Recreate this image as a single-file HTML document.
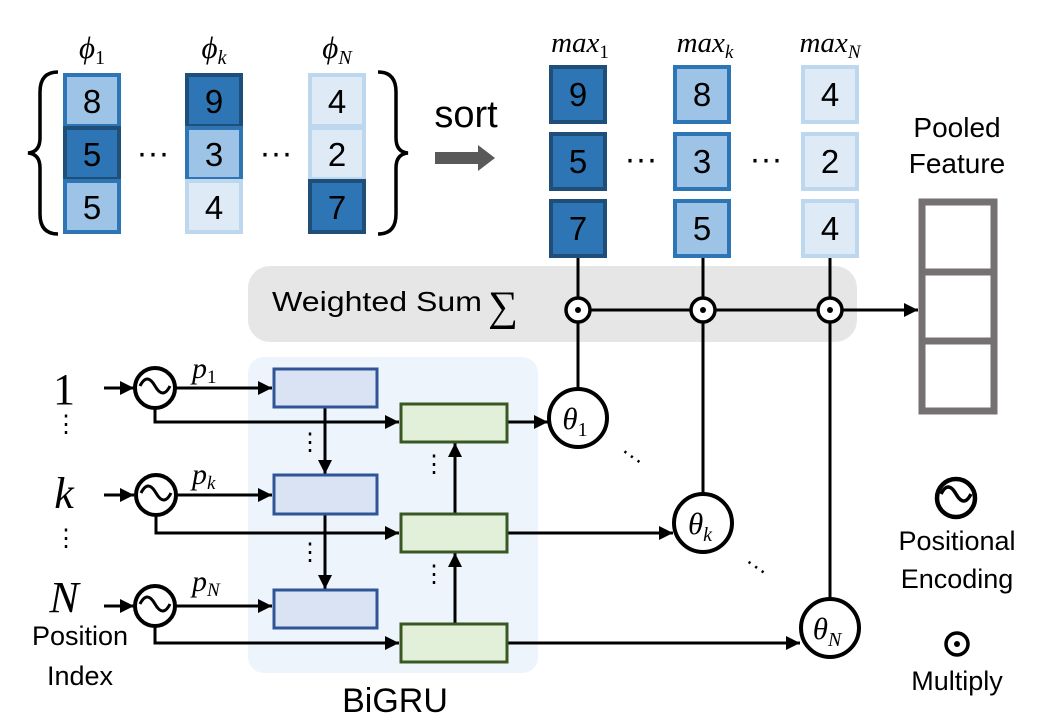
<!DOCTYPE html>
<html><head><meta charset="utf-8"><style>
html,body{margin:0;padding:0;background:#fff}
svg{display:block}
.s{font-family:"Liberation Sans",sans-serif}
.m{font-family:"Liberation Serif",serif;font-style:italic}
</style></head><body>
<svg width="1050" height="728" viewBox="0 0 1050 728" xmlns="http://www.w3.org/2000/svg">
<defs>
<marker id="b" viewBox="0 0 10 10" refX="10" refY="5" markerWidth="14" markerHeight="14" orient="auto" markerUnits="userSpaceOnUse"><path d="M0,0L10,5L0,10z" fill="#000"/></marker>
</defs>
<rect x="248" y="266" width="609" height="76" rx="22" fill="#e6e6e6"/>
<rect x="248" y="357" width="290" height="316" rx="16" fill="#eef4fb"/>
<path d="M58,72 Q40,72 40,92 L40,138 Q40,152 28,153 Q40,154 40,168 L40,214 Q40,234 58,234" fill="none" stroke="#000" stroke-width="3.5"/>
<path d="M378,72 Q396,72 396,92 L396,138 Q396,152 408,153 Q396,154 396,168 L396,214 Q396,234 378,234" fill="none" stroke="#000" stroke-width="3.5"/>
<g class="s" font-size="33" text-anchor="middle">
<g stroke-width="4">
<rect x="65" y="75" width="54" height="51" fill="#9dc3e6" stroke="#2e75b6"/>
<rect x="65" y="128" width="54" height="51" fill="#2e75b6" stroke="#1f4e79"/>
<rect x="65" y="181" width="54" height="51" fill="#9dc3e6" stroke="#2e75b6"/>
<rect x="187" y="75" width="54" height="51" fill="#2e75b6" stroke="#1f4e79"/>
<rect x="187" y="128" width="54" height="51" fill="#9dc3e6" stroke="#2e75b6"/>
<rect x="187" y="181" width="54" height="51" fill="#deebf7" stroke="#bdd7ee"/>
<rect x="310" y="75" width="54" height="51" fill="#deebf7" stroke="#bdd7ee"/>
<rect x="310" y="128" width="54" height="51" fill="#deebf7" stroke="#bdd7ee"/>
<rect x="310" y="181" width="54" height="51" fill="#2e75b6" stroke="#1f4e79"/>
</g>
<text x="92" y="113">8</text><text x="92" y="166">5</text><text x="92" y="219">5</text>
<text x="214" y="113">9</text><text x="214" y="166">3</text><text x="214" y="219">4</text>
<text x="337" y="113">4</text><text x="337" y="166">2</text><text x="337" y="219">7</text>
<text x="153" y="164">···</text><text x="276" y="164">···</text>
</g>
<g class="m" font-size="31" text-anchor="middle">
<text x="92" y="58">ϕ<tspan font-size="20" font-style="normal" dy="6">1</tspan></text>
<text x="214" y="58">ϕ<tspan font-size="20" dy="6">k</tspan></text>
<text x="337" y="58">ϕ<tspan font-size="20" dy="6">N</tspan></text>
</g>
<text class="s" x="466" y="127" font-size="38" text-anchor="middle">sort</text>
<path d="M435,152 L478,152 L478,145 L495,158 L478,171 L478,164 L435,164z" fill="#595959"/>
<g class="s" font-size="33" text-anchor="middle">
<g stroke-width="4">
<rect x="551" y="67" width="54" height="55" fill="#2e75b6" stroke="#1f4e79"/>
<rect x="551" y="134" width="54" height="55" fill="#2e75b6" stroke="#1f4e79"/>
<rect x="551" y="201" width="54" height="55" fill="#2e75b6" stroke="#1f4e79"/>
<rect x="675" y="67" width="54" height="55" fill="#9dc3e6" stroke="#2e75b6"/>
<rect x="675" y="134" width="54" height="55" fill="#9dc3e6" stroke="#2e75b6"/>
<rect x="675" y="201" width="54" height="55" fill="#9dc3e6" stroke="#2e75b6"/>
<rect x="803" y="67" width="54" height="55" fill="#deebf7" stroke="#bdd7ee"/>
<rect x="803" y="134" width="54" height="55" fill="#deebf7" stroke="#bdd7ee"/>
<rect x="803" y="201" width="54" height="55" fill="#deebf7" stroke="#bdd7ee"/>
</g>
<text x="578" y="106">9</text><text x="578" y="173">5</text><text x="578" y="240">7</text>
<text x="702" y="106">8</text><text x="702" y="173">3</text><text x="702" y="240">5</text>
<text x="830" y="106">4</text><text x="830" y="173">2</text><text x="830" y="240">4</text>
<text x="641" y="170">···</text><text x="766" y="170">···</text>
</g>
<g class="m" font-size="29" text-anchor="middle">
<text x="580" y="52">max<tspan font-size="19" font-style="normal" dy="6">1</tspan></text>
<text x="705" y="52">max<tspan font-size="19" dy="6">k</tspan></text>
<text x="830" y="52">max<tspan font-size="19" dy="6">N</tspan></text>
</g>
<text class="s" x="957" y="137" font-size="28" text-anchor="middle">Pooled</text>
<text class="s" x="957" y="173" font-size="28" text-anchor="middle">Feature</text>
<g fill="none" stroke="#767171" stroke-width="7">
<rect x="922" y="202" width="72" height="209"/>
<line x1="922" y1="272" x2="994" y2="272"/><line x1="922" y1="341" x2="994" y2="341"/>
</g>
<text class="s" x="272" y="311" font-size="28" textLength="210" lengthAdjust="spacingAndGlyphs">Weighted Sum</text>
<text x="488" y="320" font-size="42" font-family="Liberation Serif,serif">∑</text>
<g stroke="#000" stroke-width="3" fill="none">
<line x1="578" y1="258" x2="578" y2="388"/>
<line x1="703" y1="258" x2="703" y2="493"/>
<line x1="830" y1="258" x2="830" y2="598"/>
<line x1="578" y1="310" x2="918" y2="310" marker-end="url(#b)"/>
</g>
<g stroke="#000" stroke-width="3.5" fill="#fff">
<circle cx="578" cy="310" r="12"/><circle cx="703" cy="310" r="12"/><circle cx="830" cy="310" r="12"/>
</g>
<circle cx="578" cy="310" r="3"/><circle cx="703" cy="310" r="3"/><circle cx="830" cy="310" r="3"/>
<g stroke="#000" stroke-width="4" fill="#fff">
<circle cx="578" cy="418" r="29"/><circle cx="703" cy="523" r="29"/><circle cx="830" cy="628" r="29"/>
</g>
<g class="m" font-size="31" text-anchor="middle">
<text x="575" y="429">θ<tspan font-size="20" font-style="normal" dy="7">1</tspan></text>
<text x="700" y="534">θ<tspan font-size="20" dy="7">k</tspan></text>
<text x="827" y="639">θ<tspan font-size="20" dy="7">N</tspan></text>
</g>
<g font-size="24" font-family="Liberation Sans,sans-serif">
<text x="620" y="462" transform="rotate(35 630 456)">···</text>
<text x="744" y="573" transform="rotate(35 755 567)">···</text>
</g>
<g font-size="44" text-anchor="middle" font-family="Liberation Serif,serif">
<text x="64" y="404">1</text>
<text x="64" y="508" font-style="italic">k</text>
<text x="64" y="612" font-style="italic">N</text>
</g>
<g font-size="24" text-anchor="middle" font-family="Liberation Sans,sans-serif">
<text x="66" y="432">⋮</text><text x="66" y="546">⋮</text>
</g>
<text class="s" x="80" y="645" font-size="27" text-anchor="middle">Position</text>
<text class="s" x="80" y="685" font-size="27" text-anchor="middle">Index</text>
<text class="s" x="395" y="712" font-size="34" text-anchor="middle">BiGRU</text>
<g class="m" font-size="30">
<text x="192" y="378">p<tspan font-size="19" font-style="normal" dy="5">1</tspan></text>
<text x="192" y="484">p<tspan font-size="19" dy="5">k</tspan></text>
<text x="192" y="591">p<tspan font-size="19" dy="5">N</tspan></text>
</g>
<g stroke="#000" stroke-width="3" fill="none">
<line x1="104" y1="388" x2="134" y2="388" marker-end="url(#b)"/>
<line x1="104" y1="495" x2="134" y2="495" marker-end="url(#b)"/>
<line x1="104" y1="606" x2="134" y2="606" marker-end="url(#b)"/>
<line x1="176" y1="388" x2="272" y2="388" marker-end="url(#b)"/>
<line x1="176" y1="495" x2="272" y2="495" marker-end="url(#b)"/>
<line x1="176" y1="606" x2="272" y2="606" marker-end="url(#b)"/>
<path d="M155,409 L155,422 L399,422" marker-end="url(#b)"/>
<path d="M156,516 L156,533 L399,533" marker-end="url(#b)"/>
<path d="M155,627 L155,643 L399,643" marker-end="url(#b)"/>
<line x1="325" y1="407" x2="325" y2="474" marker-end="url(#b)"/>
<line x1="325" y1="514" x2="325" y2="589" marker-end="url(#b)"/>
<line x1="455" y1="623" x2="455" y2="553" marker-end="url(#b)"/>
<line x1="455" y1="514" x2="455" y2="443" marker-end="url(#b)"/>
<line x1="507" y1="422" x2="548" y2="422" marker-end="url(#b)"/>
<line x1="507" y1="533" x2="673" y2="533" marker-end="url(#b)"/>
<line x1="507" y1="643" x2="800" y2="643" marker-end="url(#b)"/>
</g>
<g stroke="#000" stroke-width="4" fill="#fff">
<circle cx="155" cy="388" r="20"/><circle cx="156" cy="495" r="20"/><circle cx="155" cy="606" r="20"/>
</g>
<g stroke="#000" stroke-width="3" fill="none">
<path d="M140,386 q7,-14 15,0 q8,14 15,0"/>
<path d="M141,493 q7,-14 15,0 q8,14 15,0"/>
<path d="M140,604 q7,-14 15,0 q8,14 15,0"/>
</g>
<g stroke-width="3">
<rect x="274" y="369" width="103" height="38" fill="#dae3f3" stroke="#2f5597"/>
<rect x="274" y="475" width="103" height="39" fill="#dae3f3" stroke="#2f5597"/>
<rect x="274" y="590" width="103" height="38" fill="#dae3f3" stroke="#2f5597"/>
<rect x="401" y="404" width="106" height="38" fill="#e2f0d9" stroke="#385723"/>
<rect x="401" y="514" width="106" height="38" fill="#e2f0d9" stroke="#385723"/>
<rect x="401" y="624" width="106" height="38" fill="#e2f0d9" stroke="#385723"/>
</g>
<g font-size="24" text-anchor="middle" font-family="Liberation Sans,sans-serif">
<text x="310" y="450">⋮</text><text x="310" y="560">⋮</text>
<text x="434" y="472">⋮</text><text x="434" y="582">⋮</text>
</g>
<circle cx="956" cy="498" r="19" fill="none" stroke="#000" stroke-width="4.5"/>
<path d="M941,494 q7,-14 15,0 q8,14 15,0" fill="none" stroke="#000" stroke-width="3.5"/>
<text class="s" x="957" y="550" font-size="27" text-anchor="middle">Positional</text>
<text class="s" x="957" y="588" font-size="27" text-anchor="middle">Encoding</text>
<circle cx="957" cy="644" r="11" fill="none" stroke="#000" stroke-width="3.5"/>
<circle cx="957" cy="644" r="3"/>
<text class="s" x="957" y="690" font-size="27" text-anchor="middle">Multiply</text>
</svg>
</body></html>
